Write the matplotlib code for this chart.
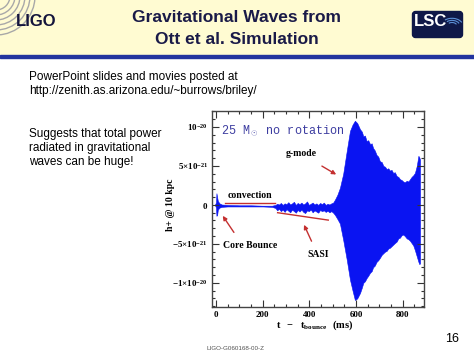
import numpy as np
import matplotlib.pyplot as plt
from matplotlib.patches import Rectangle, Arc, FancyBboxPatch

plt.rcParams['mathtext.fontset'] = 'custom'
plt.rcParams['mathtext.rm'] = 'Liberation Serif:bold'
plt.rcParams['mathtext.it'] = 'Liberation Serif:bold'
plt.rcParams['mathtext.bf'] = 'Liberation Serif:bold'

# envelope of the h+ waveform (units of 1e-21)
t_ms = [-5, 0, 2, 5, 8, 15, 25, 50, 100, 150, 200, 240, 255, 262, 270, 278, 286,
        294, 302, 310, 318, 326, 334, 342, 350, 358, 366, 374, 382, 390, 398,
        406, 414, 422, 430, 438, 446, 454, 462, 470, 478, 486, 494, 502, 510,
        520, 531, 545, 560, 574, 585, 595, 605, 617, 625, 631, 638, 645, 652,
        660, 667, 673, 680, 688, 695, 702, 710, 717, 724, 731, 738, 745, 752,
        759, 766, 774, 781, 788, 795, 802, 809, 817, 824, 831, 838, 845, 852,
        860, 867, 871, 874]
h_upper = [0, 0.3, 1.5, 1.0, 0.5, 0.2, 0.05, 0.0, -0.05, -0.05, -0.1, -0.1, 0.0,
           0.15, 0.05, 0.25, 0.0, 0.2, 0.1, 0.35, 0.05, 0.2, 0.4, 0.0, 0.25,
           0.1, 0.3, 0.05, 0.2, 0.45, 0.0, 0.15, 0.3, 0.05, 0.2, 0.0, 0.25, 0.1,
           0.3, 0.0, 0.15, 0.05, 0.2, 0.3, 0.7, 1.3, 2.2, 4.0, 6.9, 9.5, 10.3,
           10.8, 10.5, 9.7, 9.4, 8.8, 8.9, 8.2, 8.3, 7.8, 7.9, 7.3, 7.0, 6.4, 6.2,
           5.6, 5.5, 5.0, 4.9, 4.6, 4.7, 4.4, 4.5, 4.1, 4.2, 3.7, 3.6, 3.3, 3.2,
           3.0, 2.9, 3.1, 3.0, 3.3, 3.6, 3.8, 4.1, 5.0, 6.3, 6.1, 5.8]
h_lower = [0, -0.3, -1.4, -1.3, -0.6, -0.35, -0.25, -0.2, -0.2, -0.2, -0.2, -0.25,
           -0.4, -0.7, -0.5, -0.8, -0.6, -0.9, -0.55, -0.75, -0.95, -0.6, -0.8,
           -1.0, -0.65, -0.85, -0.6, -0.9, -1.05, -0.7, -0.8, -0.6, -0.95, -0.7,
           -0.85, -1.0, -0.65, -0.8, -0.7, -0.9, -0.75, -0.95, -0.8, -1.0, -1.3,
           -1.8, -2.4, -4.5, -7.0, -9.6, -11.0, -12.2, -12.0, -11.3, -10.6, -10.0,
           -9.8, -9.4, -9.1, -8.7, -8.5, -8.0, -7.8, -7.3, -7.1, -6.8, -6.4,
           -6.2, -6.0, -5.9, -5.6, -5.5, -5.3, -5.1, -4.9, -4.7, -4.3, -4.2, -3.9,
           -3.8, -4.0, -4.3, -4.4, -4.6, -4.9, -5.2, -5.8, -6.6, -7.3, -7.6, -7.5]

xticks = [0, 200, 400, 600, 800]
yticks = [-1e-20, -5e-21, 0, 5e-21, 1e-20]
ytick_labels = [r'$-1{\times}10^{-20}$', r'$-5{\times}10^{-21}$', r'$0$',
                r'$5{\times}10^{-21}$', r'$10^{-20}$']

fig = plt.figure(figsize=(4.74, 3.55), dpi=100)
fig.patch.set_facecolor('white')

# slide background, drawn in pixel coordinates
bg = fig.add_axes([0, 0, 1, 1])
bg.set_xlim(0, 474)
bg.set_ylim(355, 0)
bg.axis('off')
bg.add_patch(Rectangle((0, 0), 474, 55, color='#fffbd2', zorder=0))
bg.add_patch(Rectangle((0, 55), 474, 2.5, color='#23349e', zorder=1))
for r in [14, 19, 24, 29, 34, 39]:
    bg.add_patch(Arc((-4, -4), 2 * r, 2 * r, theta1=0, theta2=90,
                     color='#a8a8a8', lw=1.0, zorder=1))
bg.text(16, 22, 'LIGO', fontsize=12, fontweight='bold', family='Liberation Sans',
        color='#14143c', va='center', ha='left', zorder=2)
bg.add_patch(FancyBboxPatch((413, 12), 49, 25, boxstyle='round,pad=0.5,rounding_size=3',
                            color='#0f1848', zorder=1))
for r in [5, 8, 11]:
    bg.add_patch(Arc((452, 26), 2 * r, 1.4 * r, theta1=220, theta2=340,
                     color='#5b8fd6', lw=0.8, zorder=2))
bg.text(431, 22, 'LSC', fontsize=12, fontweight='bold', family='Liberation Sans',
        color='white', va='center', ha='center', zorder=3)

bg.text(237, 17, 'Gravitational Waves from', fontsize=12.5, fontweight='bold',
        family='Liberation Sans', color='#1a1a48', ha='center', va='center')
bg.text(237, 40, 'Ott et al. Simulation', fontsize=12.5, fontweight='bold',
        family='Liberation Sans', color='#1a1a48', ha='center', va='center')

bg.text(29, 77, 'PowerPoint slides and movies posted at', fontsize=8.5,
        family='Liberation Sans', color='black', va='center')
bg.text(29, 91, 'http://zenith.as.arizona.edu/~burrows/briley/', fontsize=8.5,
        family='Liberation Sans', color='black', va='center')
for i, line in enumerate(['Suggests that total power', 'radiated in gravitational',
                          'waves can be huge!']):
    bg.text(29, 133.5 + 14.2 * i, line, fontsize=8.5, family='Liberation Sans',
            color='black', va='center')
bg.text(452, 339, '16', fontsize=9, family='Liberation Sans', color='black',
        ha='center', va='center')
bg.text(207, 348, 'LIGO-G060168-00-Z', fontsize=4.5, family='Liberation Sans',
        color='#505050', va='center')

bg.text(171, 205, 'h+ @ 10 kpc', fontsize=7, family='Liberation Serif',
        fontweight='bold', rotation=90, ha='center', va='center')
bg.text(315, 325, r'$\mathrm{t\ \ -\ \ t_{bounce}\ \ (ms)}$', fontsize=7.5,
        ha='center', va='center')

# the waveform panel
ax = fig.add_axes([212 / 474, 1 - 307 / 355, 212 / 474, 196 / 355])
t = np.array(t_ms)
hu = np.array(h_upper) * 1e-21
hl = np.array(h_lower) * 1e-21
ax.fill_between(t, hl, hu, color='#0a14f2', lw=0.4)

ax.set_xlim(-17, 891)
ax.set_ylim(-1.31e-20, 1.205e-20)
ax.set_xticks(xticks)
ax.set_xticks(np.arange(0, 900, 50), minor=True)
ax.set_yticks(yticks)
ax.set_yticks(np.arange(-13e-21, 12.5e-21, 1e-21), minor=True)
ax.set_yticklabels(ytick_labels)
ax.tick_params(which='both', direction='in', top=True, right=True, colors='#333333',
               width=0.8, labelcolor='black', labelsize=6.5, pad=3)
ax.tick_params(which='major', length=5)
ax.tick_params(which='minor', length=2.5)
for lab in ax.get_xticklabels():
    lab.set_family('Liberation Serif')
    lab.set_fontweight('bold')
for s in ax.spines.values():
    s.set_color('#444444')
    s.set_linewidth(1.0)

ax.text(20, 9.4e-21, r'25 M$_\odot$ no rotation', fontsize=8.5, family='Liberation Mono',
        color='#3c3ca0', va='center')

red = '#c43030'
ax.annotate('g-mode', xy=(515, 3.9e-21), xytext=(365, 6.55e-21), fontsize=7,
            family='Liberation Serif', fontweight='bold', ha='center', va='center',
            arrowprops=dict(arrowstyle='-|>', color=red, lw=1.0, mutation_scale=6,
                            shrinkA=7, shrinkB=0))
ax.text(145, 1.15e-21, 'convection', fontsize=7, family='Liberation Serif',
        fontweight='bold', ha='center', va='center')
ax.plot([38, 253], [0.2e-21, 0.2e-21], color=red, lw=1.0)
ax.plot([264, 481], [-1.0e-21, -1.95e-21], color=red, lw=1.0)
ax.annotate('Core Bounce', xy=(29, -1.4e-21), xytext=(148, -5.2e-21), fontsize=7,
            family='Liberation Serif', fontweight='bold', ha='center', va='center',
            arrowprops=dict(arrowstyle='-|>', color=red, lw=1.0, mutation_scale=6,
                            shrinkA=5, shrinkB=0, relpos=(0.3, 1.0)))
ax.annotate('SASI', xy=(377, -2.55e-21), xytext=(436, -6.4e-21), fontsize=7,
            family='Liberation Serif', fontweight='bold', ha='center', va='center',
            arrowprops=dict(arrowstyle='-|>', color=red, lw=1.0, mutation_scale=6,
                            shrinkA=5, shrinkB=0))

fig.savefig('out.png', dpi=100)
